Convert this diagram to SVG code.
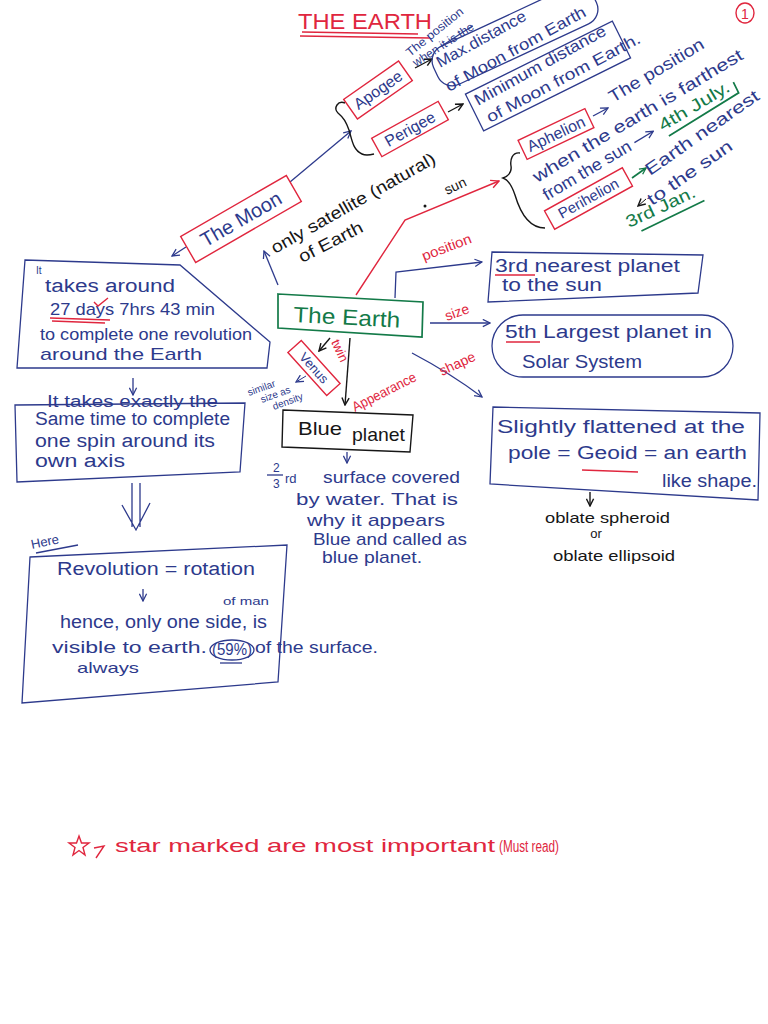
<svg xmlns="http://www.w3.org/2000/svg" width="768" height="1024" viewBox="0 0 768 1024">
<style>
text{font-family:"Liberation Sans","Open Sans",sans-serif;}
.b{fill:#2d3a8c}.r{fill:#e0263e}.g{fill:#137a48}.k{fill:#161616}
.sb{fill:none;stroke:#2d3a8c;stroke-width:1.3}
.sr{fill:none;stroke:#e0263e;stroke-width:1.4}
.sg{fill:none;stroke:#137a48;stroke-width:1.7}
.sk{fill:none;stroke:#161616;stroke-width:1.4}
.st{text-decoration:line-through}
</style>
<defs>
<marker id="ab" viewBox="0 0 10 10" refX="9" refY="5" markerWidth="9" markerHeight="9" orient="auto" markerUnits="userSpaceOnUse"><path d="M1,1 L9,5 L1,9" fill="none" stroke="#2d3a8c" stroke-width="1.4"/></marker>
<marker id="ak" viewBox="0 0 10 10" refX="9" refY="5" markerWidth="9" markerHeight="9" orient="auto" markerUnits="userSpaceOnUse"><path d="M1,1 L9,5 L1,9" fill="none" stroke="#161616" stroke-width="1.6"/></marker>
<marker id="ar" viewBox="0 0 10 10" refX="9" refY="5" markerWidth="10" markerHeight="10" orient="auto" markerUnits="userSpaceOnUse"><path d="M1,1 L9,5 L1,9" fill="none" stroke="#e0263e" stroke-width="1.4"/></marker>
<marker id="ag" viewBox="0 0 10 10" refX="9" refY="5" markerWidth="8" markerHeight="8" orient="auto" markerUnits="userSpaceOnUse"><path d="M1,1 L9,5 L1,9" fill="none" stroke="#137a48" stroke-width="1.6"/></marker>
</defs>
<rect width="768" height="1024" fill="#ffffff"/>

<g id="title">
<text x="298" y="29" class="r" font-size="22" textLength="134" lengthAdjust="spacingAndGlyphs">THE EARTH</text>
<path class="sr" d="M302,32 L418,34 M300,36 L430,38"/>
</g>
<g id="page-number">
<ellipse cx="745" cy="13" rx="9" ry="10" class="sr"/>
<text x="745" y="19" text-anchor="middle" class="r" font-size="14">1</text>
</g>

<g id="connectors">
<path class="sb" d="M290,182 L351,131" marker-end="url(#ab)"/>
<path class="sb" d="M186,247 L172,256" marker-end="url(#ab)"/>
<path class="sk" d="M415,68 L432,59" marker-end="url(#ak)"/>
<path class="sk" d="M448,112 L463,104" marker-end="url(#ak)"/>
<path class="sk" d="M345,103 C338,100 333,108 338,113 C344,118 346,122 349,130 C352,140 353,150 362,154 C366,156 370,155 374,154"/>
<path class="sr" d="M356,295 L405,220 L499,181" marker-end="url(#ar)"/>
<path class="sk" d="M520,153 C512,152 510,160 511,166 C512,172 508,176 503,178 C509,180 512,186 515,195 C520,212 528,228 545,228"/>
<path class="sb" d="M593,116 L608,108" marker-end="url(#ab)"/>
<path class="sg" d="M632,178 L646,168" marker-end="url(#ag)"/>
<path class="sk" d="M646,199 L638,206" marker-end="url(#ak)" style="stroke-width:1"/>
<path class="sb" d="M278,285 L264,251" marker-end="url(#ab)"/>
<path class="sb" d="M395,298 L396,272 L482,262" marker-end="url(#ab)"/>
<path class="sb" d="M430,323 L490,323" marker-end="url(#ab)"/>
<path class="sb" d="M412,353 Q450,373 482,397" marker-end="url(#ab)"/>
<path class="sk" d="M330,338 L319,351" marker-end="url(#ak)"/>
<path class="sk" d="M350,338 L345,405" marker-end="url(#ak)"/>
<path class="sb" d="M306,376 L296,382" marker-end="url(#ab)" style="stroke-width:1"/>
<path class="sb" d="M347,452 L347,463" marker-end="url(#ab)"/>
<path class="sk" d="M590,492 L590,506" marker-end="url(#ak)"/>
<path class="sb" d="M133,378 L133,395" marker-end="url(#ab)"/>
<path class="sb" d="M132,483 L132,527 M140,483 L140,527 M122,505 L136,530 L150,503"/>
<path class="sb" d="M143,589 L143,601" marker-end="url(#ab)"/>
</g>

<g id="apogee" transform="translate(378,90) rotate(-35)">
<rect x="-33.5" y="-12" width="67" height="24" class="sr"/>
<text x="0" y="5.5" text-anchor="middle" class="b" font-size="16">Apogee</text>
</g>
<g id="perigee" transform="translate(410,129) rotate(-29)">
<rect x="-38" y="-10.5" width="76" height="21" class="sr"/>
<text x="0" y="5.5" text-anchor="middle" class="b" font-size="16">Perigee</text>
</g>
<g id="apogee-note">
<text transform="translate(410,57) rotate(-39)" class="b" font-size="12" textLength="70" lengthAdjust="spacingAndGlyphs">The position</text>
<text transform="translate(416,67) rotate(-33)" class="b" font-size="12">when <tspan class="st">it is the</tspan></text>
<rect transform="translate(515,35) rotate(-25)" x="-87.5" y="-21" width="175" height="42" rx="16" class="sb"/>
<text transform="translate(440,68) rotate(-29)" class="b" font-size="16" textLength="100" lengthAdjust="spacingAndGlyphs">Max.distance</text>
<text transform="translate(449,92) rotate(-29)" class="b" font-size="16" textLength="158" lengthAdjust="spacingAndGlyphs">of Moon from Earth</text>
</g>
<g id="perigee-note">
<rect transform="translate(548,76) rotate(-26.4)" x="-82" y="-20.5" width="164" height="41" class="sb"/>
<text transform="translate(478,106) rotate(-29)" class="b" font-size="16" textLength="148" lengthAdjust="spacingAndGlyphs">Minimum distance</text>
<text transform="translate(490,123) rotate(-28)" class="b" font-size="16" textLength="172" lengthAdjust="spacingAndGlyphs">of Moon from Earth.</text>
</g>

<g id="moon" transform="translate(241,219) rotate(-30)">
<rect x="-61" y="-15" width="122" height="30" class="sr"/>
<text x="0" y="7" text-anchor="middle" class="b" font-size="20">The Moon</text>
</g>
<g id="satellite-note">
<text transform="translate(275,254) rotate(-29.5)" class="k" font-size="17" textLength="186" lengthAdjust="spacingAndGlyphs">only satellite (natural)</text>
<text transform="translate(302,263) rotate(-27)" class="k" font-size="17" textLength="70" lengthAdjust="spacingAndGlyphs">of Earth</text>
<text transform="translate(447,195) rotate(-25)" class="k" font-size="14">sun</text>
<circle cx="425" cy="206" r="1.5" fill="#161616"/>
</g>

<g id="aphelion">
<g transform="translate(556,134) rotate(-25.5)">
<rect x="-37" y="-10.5" width="74" height="21" class="sr"/>
<text x="0" y="5.5" text-anchor="middle" class="b" font-size="16">Aphelion</text>
</g>
<text transform="translate(613,103) rotate(-31)" class="b" font-size="17" textLength="108" lengthAdjust="spacingAndGlyphs">The position</text>
<text transform="translate(537,183) rotate(-31)" class="b" font-size="17" textLength="242" lengthAdjust="spacingAndGlyphs">when the earth is farthest</text>
<g transform="translate(547,201) rotate(-31)">
<text x="0" y="0" class="b" font-size="17" textLength="100" lengthAdjust="spacingAndGlyphs">from the sun</text>
<path class="sb" d="M105,-5 L127,-5" marker-end="url(#ab)"/>
<text x="135" y="0" class="g" font-size="17" textLength="80" lengthAdjust="spacingAndGlyphs">4th July.</text>
<path class="sg" d="M138,7 L220,6 L221,-6"/>
</g>
</g>
<g id="perihelion">
<g transform="translate(588.5,198.5) rotate(-29)">
<rect x="-44.5" y="-10.5" width="89" height="21" class="sr"/>
<text x="0" y="5" text-anchor="middle" class="b" font-size="15">Perihelion</text>
</g>
<text transform="translate(650,176) rotate(-35)" class="b" font-size="17" textLength="135" lengthAdjust="spacingAndGlyphs">Earth nearest</text>
<text transform="translate(652,206) rotate(-35)" class="b" font-size="17" textLength="100" lengthAdjust="spacingAndGlyphs">to the sun</text>
<g transform="translate(629,228) rotate(-25)">
<text x="0" y="0" class="g" font-size="17" textLength="75" lengthAdjust="spacingAndGlyphs">3rd Jan.</text>
<path class="sg" d="M10,8 L80,7"/>
</g>
</g>

<g id="moon-revolution">
<path class="sb" d="M25,260 L180,265 L270,342 L267,368 L17,368 Z"/>
<text x="36" y="274" class="b" font-size="10">It</text>
<text x="45" y="292" class="b" font-size="18" textLength="130" lengthAdjust="spacingAndGlyphs">takes around</text>
<text x="50" y="315" class="b" font-size="17" textLength="165" lengthAdjust="spacingAndGlyphs">27 days 7hrs 43 min</text>
<path class="sr" d="M50,318 L110,320 M52,321 L105,323 M94,302 L98,306 L108,298"/>
<text x="40" y="340" class="b" font-size="17" textLength="212" lengthAdjust="spacingAndGlyphs">to complete one revolution</text>
<text x="40" y="360" class="b" font-size="17" textLength="162" lengthAdjust="spacingAndGlyphs">around the Earth</text>
</g>
<g id="moon-spin">
<path class="sb" d="M15,405 L245,403 L240,472 L17,482 Z"/>
<text x="47" y="407" class="b" font-size="16" textLength="171" lengthAdjust="spacingAndGlyphs">It takes exactly the</text>
<text x="35" y="425" class="b" font-size="18" textLength="195" lengthAdjust="spacingAndGlyphs">Same time to complete</text>
<text x="35" y="447" class="b" font-size="18" textLength="180" lengthAdjust="spacingAndGlyphs">one spin around its</text>
<text x="35" y="467" class="b" font-size="18" textLength="90" lengthAdjust="spacingAndGlyphs">own axis</text>
</g>
<g id="here-note">
<text transform="translate(32,549) rotate(-12)" class="b" font-size="13">Here</text>
<path class="sb" d="M36,553 L78,545"/>
</g>
<g id="revolution-rotation">
<path class="sb" d="M30,557 L287,545 L278,682 L22,703 Z"/>
<text x="57" y="575" class="b" font-size="18" textLength="198" lengthAdjust="spacingAndGlyphs">Revolution = rotation</text>
<text x="223" y="605" class="b" font-size="11" textLength="46" lengthAdjust="spacingAndGlyphs">of man</text>
<text x="60" y="628" class="b" font-size="18" textLength="207" lengthAdjust="spacingAndGlyphs">hence, only one side, is</text>
<text x="52" y="653" class="b" font-size="17" textLength="155" lengthAdjust="spacingAndGlyphs">visible to earth.</text>
<text x="212" y="655" class="b" font-size="16" textLength="40" lengthAdjust="spacingAndGlyphs">(59%)</text>
<ellipse cx="232" cy="650" rx="22" ry="10" class="sb"/>
<path class="sb" d="M220,663 L242,663"/>
<text x="255" y="653" class="b" font-size="17" textLength="123" lengthAdjust="spacingAndGlyphs">of the surface.</text>
<text x="77" y="673" class="b" font-size="15" textLength="62" lengthAdjust="spacingAndGlyphs">always</text>
</g>

<g id="the-earth">
<path class="sg" d="M278,294 L423,302 L422,337 L278,328 Z"/>
<text transform="translate(293,322) rotate(3)" class="g" font-size="22" textLength="107" lengthAdjust="spacingAndGlyphs">The Earth</text>
</g>
<g id="edge-labels">
<text transform="translate(424,261) rotate(-21)" class="r" font-size="14" textLength="52" lengthAdjust="spacingAndGlyphs">position</text>
<text transform="translate(447,321) rotate(-20)" class="r" font-size="14">size</text>
<text transform="translate(442,376) rotate(-25)" class="r" font-size="14">shape</text>
<text transform="translate(331,342) rotate(65)" class="r" font-size="13">twin</text>
<text transform="translate(355,412) rotate(-27)" class="r" font-size="14" textLength="70" lengthAdjust="spacingAndGlyphs">Appearance</text>
</g>

<g id="position-node">
<path class="sb" d="M492,252 L703,255 L698,293 L488,302 Z"/>
<text x="495" y="272" class="b" font-size="18" textLength="185" lengthAdjust="spacingAndGlyphs">3rd nearest planet</text>
<path class="sr" d="M495,275 L535,275"/>
<text x="502" y="291" class="b" font-size="18" textLength="100" lengthAdjust="spacingAndGlyphs">to the sun</text>
</g>
<g id="size-node">
<rect x="492" y="315" width="241" height="62" rx="31" class="sb"/>
<text x="505" y="338" class="b" font-size="18" textLength="207" lengthAdjust="spacingAndGlyphs">5th Largest planet in</text>
<path class="sr" d="M506,342 L540,342"/>
<text x="522" y="368" class="b" font-size="18" textLength="120" lengthAdjust="spacingAndGlyphs">Solar System</text>
</g>
<g id="shape-node">
<path class="sb" d="M493,407 L760,413 L758,500 L490,484 Z"/>
<text x="497" y="433" class="b" font-size="18" textLength="248" lengthAdjust="spacingAndGlyphs">Slightly flattened at the</text>
<text x="508" y="459" class="b" font-size="18" textLength="239" lengthAdjust="spacingAndGlyphs">pole = Geoid = an earth</text>
<path class="sr" d="M582,470 L638,472"/>
<text x="662" y="487" class="b" font-size="18" textLength="95" lengthAdjust="spacingAndGlyphs">like shape.</text>
</g>
<g id="oblate-note">
<text x="545" y="523" class="k" font-size="15" textLength="125" lengthAdjust="spacingAndGlyphs">oblate spheroid</text>
<text x="596" y="538" text-anchor="middle" class="k" font-size="13">or</text>
<text x="553" y="561" class="k" font-size="15" textLength="122" lengthAdjust="spacingAndGlyphs">oblate ellipsoid</text>
</g>

<g id="venus">
<g transform="translate(314,368) rotate(48)">
<rect x="-29" y="-9" width="58" height="18" class="sr"/>
<text x="0" y="4.5" text-anchor="middle" class="b" font-size="13">Venus</text>
</g>
<text transform="translate(249,396) rotate(-20)" class="b" font-size="10">similar</text>
<text transform="translate(262,403) rotate(-20)" class="b" font-size="10">size as</text>
<text transform="translate(274,410) rotate(-20)" class="b" font-size="10">density</text>
</g>

<g id="blue-planet">
<path class="sk" d="M283,410 L413,415 L410,452 L282,447 Z"/>
<text x="298" y="435" class="k" font-size="19" textLength="44" lengthAdjust="spacingAndGlyphs">Blue</text>
<text x="352" y="441" class="k" font-size="19" textLength="53" lengthAdjust="spacingAndGlyphs">planet</text>
</g>
<g id="blue-planet-note">
<text x="273" y="472" class="b" font-size="12">2</text>
<path class="sb" d="M267,475 L283,475"/>
<text x="273" y="488" class="b" font-size="12">3</text>
<text x="285" y="483" class="b" font-size="13">rd</text>
<text x="323" y="483" class="b" font-size="17" textLength="137" lengthAdjust="spacingAndGlyphs">surface covered</text>
<text x="296" y="505" class="b" font-size="17" textLength="162" lengthAdjust="spacingAndGlyphs">by water. That is</text>
<text x="307" y="526" class="b" font-size="17" textLength="138" lengthAdjust="spacingAndGlyphs">why it appears</text>
<text x="313" y="545" class="b" font-size="17" textLength="154" lengthAdjust="spacingAndGlyphs">Blue and called as</text>
<text x="322" y="563" class="b" font-size="17" textLength="100" lengthAdjust="spacingAndGlyphs">blue planet.</text>
</g>

<g id="footnote">
<path d="M79,836 L81.5,843 L89,843 L83,847.5 L85,855 L79,850.5 L73,855 L75,847.5 L69,843 L76.5,843 Z" class="sr"/>
<path class="sr" d="M94,848 L104,846 L96,858"/>
<text x="115" y="852" class="r" font-size="19" textLength="380" lengthAdjust="spacingAndGlyphs">star marked are most important</text>
<text x="499" y="852" class="r" font-size="16" textLength="60" lengthAdjust="spacingAndGlyphs">(Must read)</text>
</g>
</svg>
